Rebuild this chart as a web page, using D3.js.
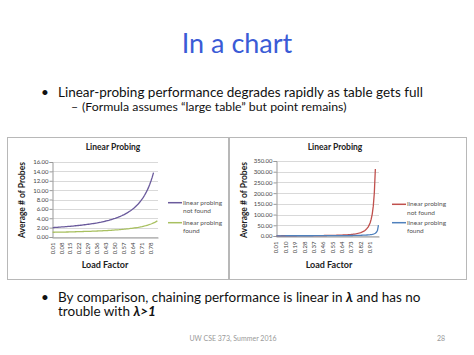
<!DOCTYPE html>
<html lang="en">
<head>
<meta charset="utf-8">
<title>In a chart</title>
<script src="https://d3js.org/d3.v7.min.js"></script>
<style>
  body { margin: 0; background: #fff; }
  svg { display: block; font-family: Lato, "Open Sans", sans-serif; }
</style>
</head>
<body>
<svg id="slide" width="474" height="355"></svg>
<script>
// load factor categories (left chart uses 0.01 .. 0.83)
var loadRight = [0.01,0.02,0.03,0.04,0.05,0.06,0.07,0.08,0.09,0.10,
  0.11,0.12,0.13,0.14,0.15,0.16,0.17,0.18,0.19,0.20,
  0.21,0.22,0.23,0.24,0.25,0.26,0.27,0.28,0.29,0.30,
  0.31,0.32,0.33,0.34,0.35,0.36,0.37,0.38,0.39,0.40,
  0.41,0.42,0.43,0.44,0.45,0.46,0.47,0.48,0.49,0.50,
  0.51,0.52,0.53,0.54,0.55,0.56,0.57,0.58,0.59,0.60,
  0.61,0.62,0.63,0.64,0.65,0.66,0.67,0.68,0.69,0.70,
  0.71,0.72,0.73,0.74,0.75,0.76,0.77,0.78,0.79,0.80,
  0.81,0.82,0.83,0.84,0.85,0.86,0.87,0.88,0.89,0.90,
  0.91,0.92,0.93,0.94,0.95,0.96,0.97,0.98,0.99]
var loadLeft = loadRight.slice(0, 83)

// shown x tick labels
var leftTicks = ["0.01","0.08","0.15","0.22","0.29","0.36","0.43","0.50","0.57","0.64","0.71","0.78"]
var rightTicks = ["0.01","0.10","0.19","0.28","0.37","0.46","0.55","0.64","0.73","0.82","0.91"]

// y ticks
var leftY = [0,2,4,6,8,10,12,14,16]
var rightY = [0,50,100,150,200,250,300,350]

// left chart: average probes, unsuccessful (ends at 0.80)
var leftNotFound = [2.02,2.03,2.05,2.07,2.08,2.10,2.12,2.14,2.16,2.18,
  2.20,2.22,2.25,2.27,2.29,2.32,2.34,2.37,2.40,2.42,
  2.45,2.48,2.51,2.54,2.58,2.61,2.64,2.68,2.72,2.76,
  2.80,2.84,2.88,2.93,2.98,3.02,3.08,3.13,3.18,3.24,
  3.30,3.36,3.43,3.50,3.57,3.65,3.73,3.81,3.90,3.99,
  4.09,4.19,4.30,4.41,4.53,4.66,4.79,4.94,5.09,5.25,
  5.43,5.61,5.81,6.02,6.25,6.50,6.76,7.05,7.36,7.70,
  8.07,8.47,8.91,9.40,9.94,10.53,11.20,11.94,12.77,13.72,
  null,null,null]
// successful search, shared by both charts
var found = [1.01,1.01,1.02,1.02,1.03,1.03,1.04,1.04,1.05,1.06,
  1.06,1.07,1.07,1.08,1.09,1.10,1.10,1.11,1.12,1.13,
  1.13,1.14,1.15,1.16,1.17,1.18,1.18,1.19,1.20,1.21,
  1.22,1.24,1.25,1.26,1.27,1.28,1.29,1.31,1.32,1.33,
  1.35,1.36,1.38,1.39,1.41,1.43,1.44,1.46,1.48,1.50,
  1.52,1.54,1.56,1.59,1.61,1.64,1.66,1.69,1.72,1.75,
  1.78,1.82,1.85,1.89,1.93,1.97,2.02,2.06,2.11,2.17,
  2.22,2.29,2.35,2.42,2.50,2.58,2.67,2.77,2.88,3.00,
  3.13,3.28,3.44,3.63,3.83,4.07,4.35,4.67,5.05,5.50,
  6.06,6.75,7.64,8.83,10.50,13.00,17.17,25.50,50.50]
var leftFound = found.slice(0, 83)

// right chart: unsuccessful (ends at 0.96)
var rightNotFound = [1.01,1.02,1.03,1.04,1.05,1.07,1.08,1.09,1.10,1.12,
  1.13,1.15,1.16,1.18,1.19,1.21,1.23,1.24,1.26,1.28,
  1.30,1.32,1.34,1.37,1.39,1.41,1.44,1.46,1.49,1.52,
  1.55,1.58,1.61,1.65,1.68,1.72,1.76,1.80,1.84,1.89,
  1.94,1.99,2.04,2.09,2.15,2.21,2.28,2.35,2.42,2.50,
  2.58,2.67,2.76,2.86,2.97,3.08,3.20,3.33,3.47,3.63,
  3.79,3.96,4.15,4.36,4.58,4.83,5.09,5.38,5.70,6.06,
  6.45,6.88,7.36,7.90,8.50,9.18,9.95,10.83,11.84,13.00,
  14.35,15.93,17.80,20.03,22.72,26.01,30.09,35.22,41.82,50.50,
  62.23,78.63,102.54,139.39,200.50,313.00,null,null,null]
var rightFound = found

var seriesNames = [["linear probing", "not found"], ["linear probing", "found"]]

var svg = d3.select("#slide")
svg.append("rect").attr("width", 474).attr("height", 355).attr("fill", "#fff")

// slide text
svg.append("text").attr("x", 237).attr("y", 53).attr("text-anchor", "middle")
  .attr("font-size", 27).attr("fill", "#3a5bd6").text("In a chart")

svg.append("text").attr("x", 41).attr("y", 97).attr("font-size", 13.5).attr("fill", "#111").text("•")
svg.append("text").attr("x", 58).attr("y", 97).attr("font-size", 13.5).attr("fill", "#111")
  .text("Linear-probing performance degrades rapidly as table gets full")
svg.append("text").attr("x", 71).attr("y", 111).attr("font-size", 12.3).attr("fill", "#111").text("–")
svg.append("text").attr("x", 82).attr("y", 111).attr("font-size", 12.3).attr("fill", "#111")
  .text("(Formula assumes \u201clarge table\u201d but point remains)")

svg.append("text").attr("x", 41).attr("y", 302).attr("font-size", 13.5).attr("fill", "#111").text("•")
var b2 = svg.append("text").attr("x", 58).attr("y", 302).attr("font-size", 13.5).attr("fill", "#111")
b2.append("tspan").text("By comparison, chaining performance is linear in ")
b2.append("tspan").attr("font-weight", "bold").attr("font-style", "italic").text("\u03bb")
b2.append("tspan").text(" and has no")
var b3 = svg.append("text").attr("x", 58).attr("y", 316).attr("font-size", 13.5).attr("fill", "#111")
b3.append("tspan").text("trouble with ")
b3.append("tspan").attr("font-weight", "bold").attr("font-style", "italic").text("\u03bb>1")

svg.append("text").attr("x", 233).attr("y", 341).attr("text-anchor", "middle")
  .attr("font-size", 7).attr("fill", "#999").text("UW CSE 373, Summer 2016")
svg.append("text").attr("x", 441).attr("y", 341).attr("text-anchor", "middle")
  .attr("font-size", 7).attr("fill", "#999").text("28")

function drawChart(c) {
  var g = svg.append("g")
  g.append("rect").attr("x", c.box[0] + 0.5).attr("y", c.box[1] + 0.5)
    .attr("width", c.box[2]).attr("height", c.box[3])
    .attr("fill", "#fff").attr("stroke", "#b8b8b8")

  var x = d3.scaleBand().domain(c.cats).range([c.left, c.right])
  var y = d3.scaleLinear().domain([0, d3.max(c.yTicks)]).range([c.bottom, c.top])

  // gridlines
  g.append("g").selectAll("line").data(c.yTicks).join("line")
    .attr("x1", c.left).attr("x2", c.right)
    .attr("y1", d => Math.round(y(d)) + 0.5).attr("y2", d => Math.round(y(d)) + 0.5)
    .attr("stroke", "#d9d9d9")

  var yAxis = g.append("g").attr("transform", "translate(" + (c.left + 0.5) + ",0)")
    .call(d3.axisLeft(y).tickValues(c.yTicks).tickFormat(d3.format(".2f")).tickSize(3))
  yAxis.select(".domain").attr("stroke", "#999")
  yAxis.selectAll(".tick line").attr("stroke", "#999")
  yAxis.selectAll("text").attr("font-size", 6).attr("fill", "#444")
    .attr("font-family", "Lato, sans-serif").attr("x", -4)

  var xAxis = g.append("g").attr("transform", "translate(0," + (c.bottom + 0.5) + ")")
    .call(d3.axisBottom(x).tickValues(c.cats.filter(d => c.xTicks.includes(d.toFixed(2))))
      .tickFormat(d3.format(".2f")).tickSize(0))
  xAxis.select(".domain").attr("stroke", "#999")
  xAxis.selectAll("text").attr("font-size", 6).attr("fill", "#444")
    .attr("font-family", "Lato, sans-serif")
    .attr("transform", "rotate(-90)").attr("text-anchor", "end")
    .attr("x", -5).attr("y", 0).attr("dy", "0.32em")

  var line = d3.line().defined(d => d.v != null)
    .x(d => x(d.k) + x.bandwidth() / 2).y(d => y(d.v))
  c.series.forEach(function (s) {
    g.append("path").datum(c.cats.map((k, i) => ({ k: k, v: s.values[i] })))
      .attr("fill", "none").attr("stroke", s.color).attr("stroke-width", 1.3)
      .attr("d", line)
  })

  g.append("text").attr("x", c.titleX).attr("y", 150).attr("text-anchor", "middle")
    .attr("font-size", 8.5).attr("font-weight", "bold").attr("fill", "#222").text("Linear Probing")
  g.append("text").attr("transform", "translate(" + c.yTitleX + ",200) rotate(-90)")
    .attr("text-anchor", "middle").attr("font-size", 8.5).attr("font-weight", "bold")
    .attr("fill", "#222").text("Average # of Probes")
  g.append("text").attr("x", c.xTitleX).attr("y", 268).attr("text-anchor", "middle")
    .attr("font-size", 9).attr("font-weight", "bold").attr("fill", "#222").text("Load Factor")

  // legend
  c.series.forEach(function (s, i) {
    var ly = c.legendY[i]
    g.append("line").attr("x1", c.legendX).attr("x2", c.legendX + 14)
      .attr("y1", ly).attr("y2", ly).attr("stroke", s.color).attr("stroke-width", 1.5)
    var t = g.append("text").attr("x", c.legendX + 15).attr("y", ly + 2)
      .attr("font-size", 6.5).attr("fill", "#555")
    t.append("tspan").text(seriesNames[i][0])
    t.append("tspan").attr("x", c.legendX + 15).attr("dy", 8.3).text(seriesNames[i][1])
  })
}

drawChart({
  box: [7, 137, 221, 142], cats: loadLeft, xTicks: leftTicks, yTicks: leftY,
  left: 52, right: 158, top: 162, bottom: 237,
  titleX: 113, yTitleX: 25, xTitleX: 105, legendX: 168, legendY: [202.7, 222.7],
  series: [{ values: leftNotFound, color: "#6a5a9c" }, { values: leftFound, color: "#a8c060" }]
})
drawChart({
  box: [229, 137, 237, 142], cats: loadRight, xTicks: rightTicks, yTicks: rightY,
  left: 276, right: 379, top: 161, bottom: 236,
  titleX: 335, yTitleX: 247, xTitleX: 329, legendX: 392, legendY: [204.3, 222.7],
  series: [{ values: rightNotFound, color: "#c0504d" }, { values: rightFound, color: "#4f81bd" }]
})
</script>
</body>
</html>
